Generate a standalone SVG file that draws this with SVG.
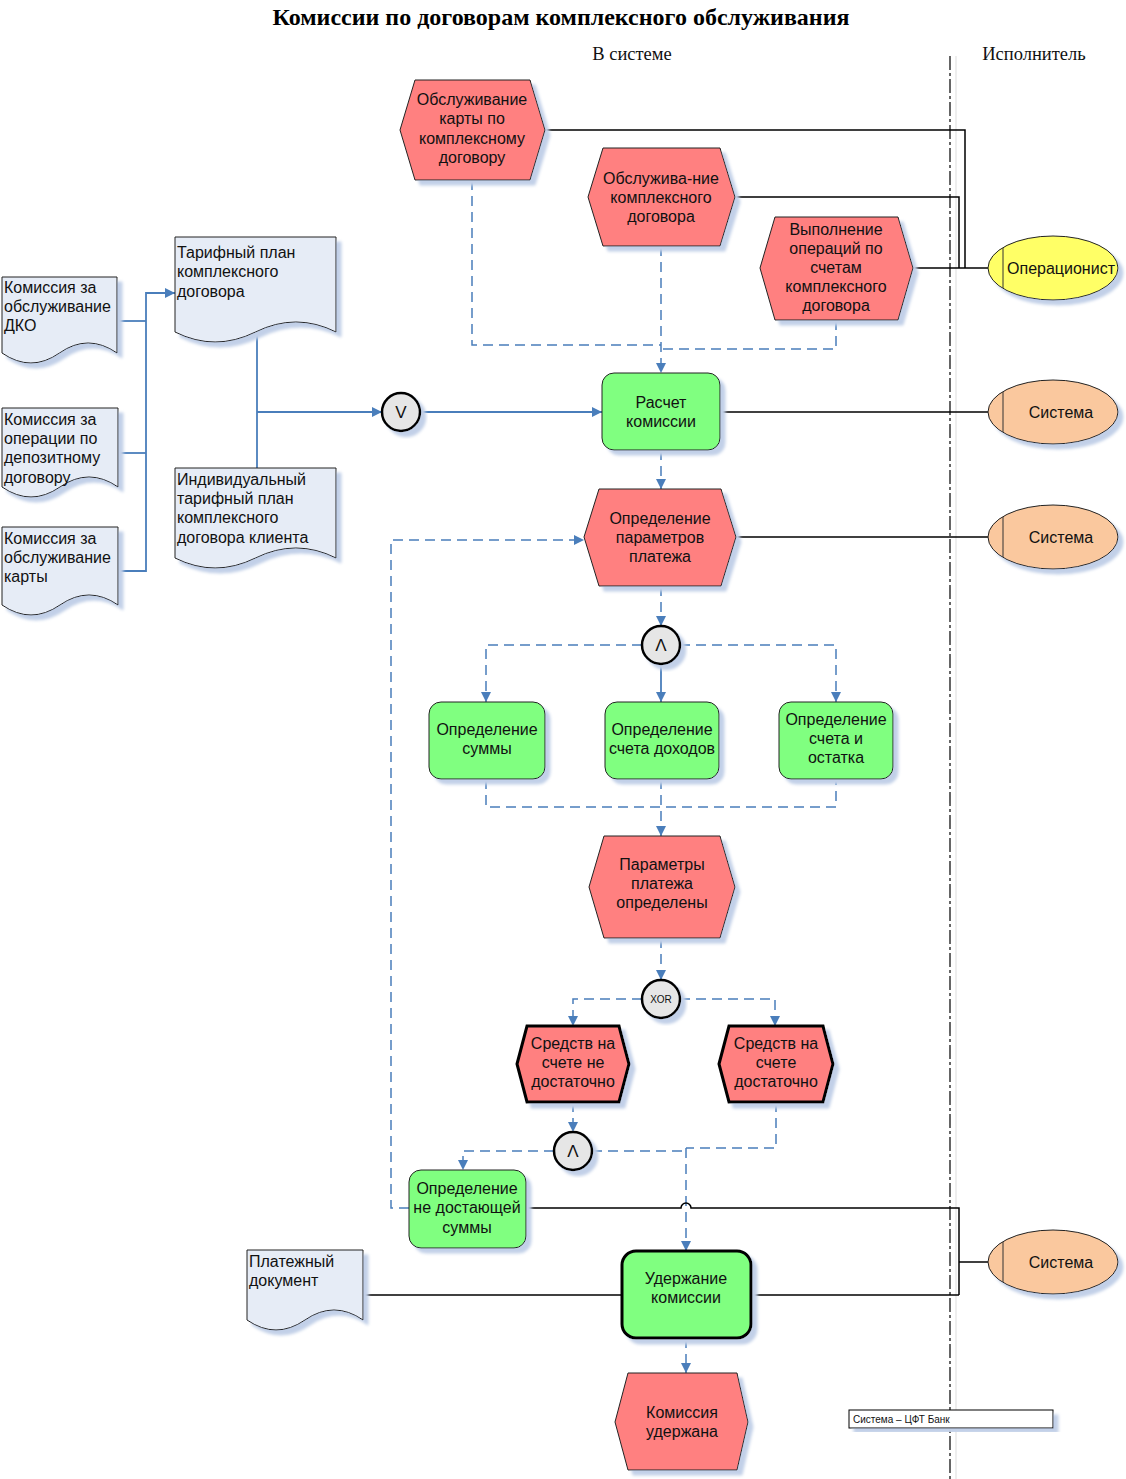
<svg xmlns="http://www.w3.org/2000/svg" width="1126" height="1479" viewBox="0 0 1126 1479">
<defs>
<filter id="sh" x="-10%" y="-10%" width="130%" height="130%">
<feDropShadow dx="5" dy="5" stdDeviation="1.5" flood-color="#C2D0E8" flood-opacity="1"/>
</filter>
<marker id="ar" markerUnits="userSpaceOnUse" markerWidth="10" markerHeight="10" refX="10" refY="5" orient="auto">
<path d="M0,0 L10,5 L0,10 z" fill="#4A7EBB"/>
</marker>
<style>
.ev{fill:#FF8080;stroke:#222;stroke-width:1;filter:url(#sh)}
.evb{fill:#FF8080;stroke:#000;stroke-width:3;filter:url(#sh)}
.fn{fill:#80FF80;stroke:#222;stroke-width:1;filter:url(#sh)}
.fnb{fill:#80FF80;stroke:#000;stroke-width:3;filter:url(#sh)}
.doc{fill:#E6ECF6;stroke:#222;stroke-width:1;filter:url(#sh)}
.gate{fill:#E6E6E6;stroke:#000;stroke-width:2.5;filter:url(#sh)}
.sys{fill:#FAC89E;stroke:#222;stroke-width:1;filter:url(#sh)}
.op{fill:#FFFF66;stroke:#222;stroke-width:1;filter:url(#sh)}
.t{font-family:"Liberation Sans",Arial,sans-serif;font-size:16px;fill:#111;text-anchor:middle}
.tl{font-family:"Liberation Sans",Arial,sans-serif;font-size:16px;fill:#111;text-anchor:start}
.g{font-family:"Liberation Sans",Arial,sans-serif;font-size:17px;fill:#111;text-anchor:middle}
.hd{font-family:"Liberation Serif","Times New Roman",serif;font-size:18.5px;fill:#111;text-anchor:middle}
.bl{fill:none;stroke:#4A7EBB;stroke-width:1.8}
.bd{fill:none;stroke:#4A7EBB;stroke-width:1.5;stroke-dasharray:10 6}
.k{fill:none;stroke:#000;stroke-width:1.5}
</style>
</defs>
<rect width="1126" height="1479" fill="#FFFFFF"/>

<text x="561" y="25" style="font-family:'Liberation Serif','Times New Roman',serif;font-size:24px;font-weight:bold;fill:#000;text-anchor:middle">Комиссии по договорам комплексного обслуживания</text>
<text class="hd" x="632" y="60">В системе</text>
<text class="hd" x="1034" y="60">Исполнитель</text>

<g id="lane-divider">
<line x1="956" y1="56" x2="956" y2="1479" stroke="#DDDDDD" stroke-width="1"/>
<line x1="950" y1="56" x2="950" y2="1479" stroke="#000" stroke-width="1.2" stroke-dasharray="14 3 3 3"/>
</g>

<g id="connectors">
<path class="bl" d="M117,321 H146"/>
<path class="bl" d="M118,453 H146"/>
<path class="bl" d="M118,571 H146 V293 H175" marker-end="url(#ar)"/>
<path class="bl" d="M257,333 V468"/>
<path class="bl" d="M257,412 H382" marker-end="url(#ar)"/>
<path class="bl" d="M420,412 H602" marker-end="url(#ar)"/>
<path class="bd" d="M472,180 V345 H661"/>
<path class="bd" d="M836,320 V349 H661"/>
<path class="bd" d="M661,246 V373" marker-end="url(#ar)"/>
<path class="k" d="M545,130 H965 V268"/>
<path class="k" d="M735,197 H959 V268"/>
<path class="k" d="M913,268 H988"/>
<path class="k" d="M720,412 H988"/>
<path class="k" d="M736,537 H988"/>
<path class="bd" d="M661,450 V489" marker-end="url(#ar)"/>
<path class="bd" d="M661,586 V626" marker-end="url(#ar)"/>
<path class="bd" d="M642,645 H486 V702" marker-end="url(#ar)"/>
<path class="bl" d="M661,664 V702" marker-end="url(#ar)"/>
<path class="bd" d="M680,645 H836 V702" marker-end="url(#ar)"/>
<path class="bd" d="M486,779 V807 H836 V779"/>
<path class="bd" d="M661,779 V836" marker-end="url(#ar)"/>
<path class="bd" d="M661,938 V980" marker-end="url(#ar)"/>
<path class="bd" d="M642,999 H573 V1026" marker-end="url(#ar)"/>
<path class="bd" d="M680,999 H775 V1026" marker-end="url(#ar)"/>
<path class="bd" d="M573,1102 V1132" marker-end="url(#ar)"/>
<path class="bd" d="M554,1151 H463 V1170" marker-end="url(#ar)"/>
<path class="bd" d="M592,1151 H686"/>
<path class="bd" d="M776,1102 V1148 H686"/>
<path class="bd" d="M686,1148 V1251" marker-end="url(#ar)"/>
<path class="bd" d="M409,1208 H391 V540 H584" marker-end="url(#ar)"/>
<path class="k" d="M526,1208 H681 A5,5 0 0 1 691,1208 H959 V1295"/>
<path class="k" d="M751,1295 H959"/>
<path class="k" d="M959,1262 H988"/>
<path class="k" d="M363,1295 H622"/>
<path class="bd" d="M686,1338 V1373" marker-end="url(#ar)"/>
</g>

<g id="doc-dko">
<path class="doc" d="M2,277 H117 V353 Q88,333 59.5,353 Q31,373 2,353 Z"/>
<text class="tl" x="4" y="293">Комиссия за</text>
<text class="tl" x="4" y="312">обслуживание</text>
<text class="tl" x="4" y="331">ДКО</text>
</g>
<g id="doc-deposit">
<path class="doc" d="M2,408 H118 V487 Q89,467 60,487 Q31,507 2,487 Z"/>
<text class="tl" x="4" y="425">Комиссия за</text>
<text class="tl" x="4" y="444">операции по</text>
<text class="tl" x="4" y="463">депозитному</text>
<text class="tl" x="4" y="483">договору</text>
</g>
<g id="doc-card">
<path class="doc" d="M2,527 H118 V605 Q89,585 60,605 Q31,625 2,605 Z"/>
<text class="tl" x="4" y="544">Комиссия за</text>
<text class="tl" x="4" y="563">обслуживание</text>
<text class="tl" x="4" y="582">карты</text>
</g>
<g id="doc-tariff">
<path class="doc" d="M175,237 H336 V332 Q296,312 255.5,332 Q215,352 175,332 Z"/>
<text class="tl" x="177" y="258">Тарифный план</text>
<text class="tl" x="177" y="277">комплексного</text>
<text class="tl" x="177" y="297">договора</text>
</g>
<g id="doc-individual">
<path class="doc" d="M175,468 H336 V558 Q296,538 255.5,558 Q215,578 175,558 Z"/>
<text class="tl" x="177" y="485">Индивидуальный</text>
<text class="tl" x="177" y="504">тарифный план</text>
<text class="tl" x="177" y="523">комплексного</text>
<text class="tl" x="177" y="543">договора клиента</text>
</g>
<g id="doc-payment">
<path class="doc" d="M247,1250 H363 V1320 Q334,1300 305,1320 Q276,1340 247,1320 Z"/>
<text class="tl" x="249" y="1267">Платежный</text>
<text class="tl" x="249" y="1286">документ</text>
</g>

<g id="ev-card">
<polygon class="ev" points="400,130 415,80 530,80 545,130 530,180 415,180"/>
<text class="t" x="472" y="105">Обслуживание</text>
<text class="t" x="472" y="124">карты по</text>
<text class="t" x="472" y="144">комплексному</text>
<text class="t" x="472" y="163">договору</text>
</g>
<g id="ev-contract">
<polygon class="ev" points="588,197 603,148 720,148 735,197 720,246 603,246"/>
<text class="t" x="661" y="184">Обслужива-ние</text>
<text class="t" x="661" y="203">комплексного</text>
<text class="t" x="661" y="222">договора</text>
</g>
<g id="ev-operations">
<polygon class="ev" points="760,268 775,217 898,217 913,268 898,320 775,320"/>
<text class="t" x="836" y="235">Выполнение</text>
<text class="t" x="836" y="254">операций по</text>
<text class="t" x="836" y="273">счетам</text>
<text class="t" x="836" y="292">комплексного</text>
<text class="t" x="836" y="311">договора</text>
</g>
<g id="role-operator">
<ellipse class="op" cx="1053" cy="268" rx="65" ry="32"/>
<line x1="1003" y1="248" x2="1003" y2="288" stroke="#333" stroke-width="1"/>
<text class="t" x="1061" y="274">Операционист</text>
</g>

<g id="gate-or">
<circle class="gate" cx="401" cy="412" r="19"/>
<text class="g" x="401" y="418">V</text>
</g>
<g id="fn-calc">
<rect class="fn" x="602" y="373" width="118" height="77" rx="12"/>
<text class="t" x="661" y="408">Расчет</text>
<text class="t" x="661" y="427">комиссии</text>
</g>
<g id="role-system-1">
<ellipse class="sys" cx="1053" cy="412" rx="65" ry="32"/>
<line x1="1003" y1="392" x2="1003" y2="432" stroke="#333" stroke-width="1"/>
<text class="t" x="1061" y="418">Система</text>
</g>
<g id="ev-params">
<polygon class="ev" points="584,537 599,489 721,489 736,537 721,586 599,586"/>
<text class="t" x="660" y="524">Определение</text>
<text class="t" x="660" y="543">параметров</text>
<text class="t" x="660" y="562">платежа</text>
</g>
<g id="role-system-2">
<ellipse class="sys" cx="1053" cy="537" rx="65" ry="32"/>
<line x1="1003" y1="517" x2="1003" y2="557" stroke="#333" stroke-width="1"/>
<text class="t" x="1061" y="543">Система</text>
</g>
<g id="gate-and-1">
<circle class="gate" cx="661" cy="645" r="19"/>
<text class="g" x="661" y="651">Λ</text>
</g>
<g id="fn-sum">
<rect class="fn" x="429" y="702" width="116" height="77" rx="12"/>
<text class="t" x="487" y="735">Определение</text>
<text class="t" x="487" y="754">суммы</text>
</g>
<g id="fn-income">
<rect class="fn" x="605" y="702" width="114" height="77" rx="12"/>
<text class="t" x="662" y="735">Определение</text>
<text class="t" x="662" y="754">счета доходов</text>
</g>
<g id="fn-balance">
<rect class="fn" x="779" y="702" width="114" height="77" rx="12"/>
<text class="t" x="836" y="725">Определение</text>
<text class="t" x="836" y="744">счета и</text>
<text class="t" x="836" y="763">остатка</text>
</g>
<g id="ev-params-done">
<polygon class="ev" points="589,887 604,836 720,836 735,887 720,938 604,938"/>
<text class="t" x="662" y="870">Параметры</text>
<text class="t" x="662" y="889">платежа</text>
<text class="t" x="662" y="908">определены</text>
</g>
<g id="gate-xor">
<circle class="gate" cx="661" cy="999" r="19"/>
<text x="661" y="1003" style="font-family:'Liberation Sans',Arial,sans-serif;font-size:10px;fill:#111;text-anchor:middle">XOR</text>
</g>
<g id="ev-insufficient">
<polygon class="evb" points="517,1064 527,1026 619,1026 629,1064 619,1102 527,1102"/>
<text class="t" x="573" y="1049">Средств на</text>
<text class="t" x="573" y="1068">счете не</text>
<text class="t" x="573" y="1087">достаточно</text>
</g>
<g id="ev-sufficient">
<polygon class="evb" points="719,1064 729,1026 823,1026 833,1064 823,1102 729,1102"/>
<text class="t" x="776" y="1049">Средств на</text>
<text class="t" x="776" y="1068">счете</text>
<text class="t" x="776" y="1087">достаточно</text>
</g>
<g id="gate-and-2">
<circle class="gate" cx="573" cy="1151" r="19"/>
<text class="g" x="573" y="1157">Λ</text>
</g>
<g id="fn-missing">
<rect class="fn" x="409" y="1170" width="117" height="78" rx="12"/>
<text class="t" x="467" y="1194">Определение</text>
<text class="t" x="467" y="1213">не достающей</text>
<text class="t" x="467" y="1233">суммы</text>
</g>
<g id="fn-withhold">
<rect class="fnb" x="622" y="1251" width="129" height="87" rx="14"/>
<text class="t" x="686" y="1284">Удержание</text>
<text class="t" x="686" y="1303">комиссии</text>
</g>
<g id="role-system-3">
<ellipse class="sys" cx="1053" cy="1262" rx="65" ry="32"/>
<line x1="1003" y1="1242" x2="1003" y2="1282" stroke="#333" stroke-width="1"/>
<text class="t" x="1061" y="1268">Система</text>
</g>
<g id="ev-withheld">
<polygon class="ev" points="615,1422 628,1373 737,1373 748,1422 737,1470 628,1470"/>
<text class="t" x="682" y="1418">Комиссия</text>
<text class="t" x="682" y="1437">удержана</text>
</g>
<g id="legend">
<rect x="849" y="1410" width="204" height="18" fill="#FFFFFF" stroke="#000" stroke-width="1" filter="url(#sh)"/>
<text x="853" y="1423" style="font-family:'Liberation Sans',Arial,sans-serif;font-size:10px;fill:#111">Система – ЦФТ Банк</text>
</g>
</svg>
